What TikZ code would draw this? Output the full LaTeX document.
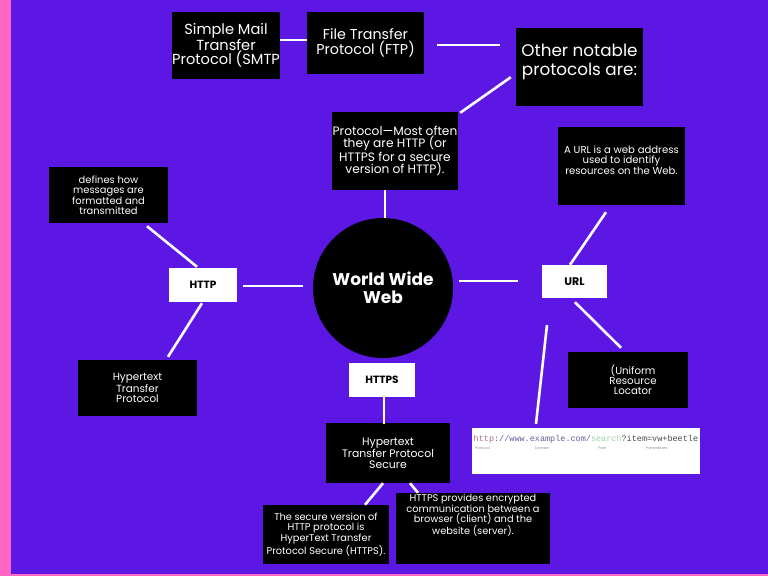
\documentclass[tikz,border=0pt]{standalone}
\usepackage{fontspec}
\setmainfont{Poppins}
\newfontfamily\urlmono{Liberation Mono}
\usetikzlibrary{calc}
\definecolor{bgpurple}{HTML}{5D17E4}
\definecolor{bgpink}{HTML}{FF66C4}
\definecolor{urlpink}{HTML}{B56A8E}
\definecolor{urlpurple}{HTML}{6E5A9E}
\definecolor{urlgreen}{HTML}{9CD4A0}
\definecolor{urlgrey}{HTML}{4A4A4A}
\tikzset{
  blk/.style={fill=black, text=white, align=center, inner sep=0pt},
  wht/.style={fill=white, text=black, align=center, inner sep=0pt, font=\fontsize{10.5}{11}\selectfont\bfseries},
  conn/.style={draw=white, line width=2.6pt},
  lbl/.style={text=white, align=center, inner sep=0pt},
  tiny/.style={anchor=base west, inner sep=0pt, text=black!45, font=\fontsize{3.6}{4}\selectfont},
}
\begin{document}
\begin{tikzpicture}[x=1pt,y=-1pt]
\useasboundingbox (0,0) rectangle (768,576);
\fill[bgpink] (0,0) rectangle (768,576);
\fill[bgpurple] (11,0) rectangle (768,574);

% top protocols
\node[blk, minimum width=108pt, minimum height=67pt, font=\fontsize{14.6}{14}\selectfont] (smtp) at (226,45.5) {Simple Mail\\Transfer\\Protocol (SMTP};
\node[blk, minimum width=117pt, minimum height=62pt, font=\fontsize{14.3}{15}\selectfont] (ftp) at (365.5,43) {File Transfer\\Protocol (FTP)};
\node[blk, minimum width=127pt, minimum height=78pt,
  label={[lbl, font=\fontsize{16.8}{18.5}\selectfont, yshift=5pt]center:{Other notable\\protocols are:}}] (other) at (579.5,67) {};
\node[blk, minimum width=126pt, minimum height=78pt, font=\fontsize{12.2}{11.8}\selectfont] (proto) at (395,151) {Protocol—Most often\\they are HTTP (or\\HTTPS for a secure\\version of HTTP).};

% centre
\node[circle, fill=black, text=white, minimum size=140pt, inner sep=0pt, align=center, font=\fontsize{17}{18}\selectfont\bfseries] (www) at (383,288) {World Wide\\Web};

% HTTP branch
\node[wht, minimum width=68pt, minimum height=34pt] (http) at (203,285) {HTTP};
\node[blk, minimum width=119pt, minimum height=56pt, font=\fontsize{9.9}{9.8}\selectfont] (defines) at (108.5,195) {defines how\\messages are\\formatted and\\transmitted};
\node[blk, minimum width=119pt, minimum height=56pt, font=\fontsize{10.4}{10.2}\selectfont] (hyp) at (137.5,388) {Hypertext\\Transfer\\Protocol};

% HTTPS branch
\node[wht, minimum width=66pt, minimum height=34pt] (https) at (382,380) {HTTPS};
\node[blk, minimum width=124pt, minimum height=60pt, font=\fontsize{10.9}{11}\selectfont] (sec) at (388,453) {Hypertext\\Transfer Protocol\\Secure};
\node[blk, minimum width=126pt, minimum height=59pt, font=\fontsize{9.8}{10}\selectfont] (left) at (326,534.5) {The secure version of\\HTTP protocol is\\HyperText Transfer\\Protocol Secure (HTTPS).};
\node[blk, minimum width=154pt, minimum height=71pt,
  label={[lbl, font=\fontsize{9.8}{10}\selectfont, yshift=13pt]center:{HTTPS provides encrypted\\communication between a\\browser (client) and the\\website (server).}}] (right) at (473,528.5) {};

% URL branch
\node[wht, minimum width=65pt, minimum height=33pt, font=\fontsize{11}{12}\selectfont\bfseries] (url) at (574.5,281.5) {URL};
\node[blk, minimum width=127pt, minimum height=78pt,
  label={[lbl, font=\fontsize{10.1}{9.8}\selectfont, yshift=6pt]center:{A URL is a web address\\used to identify\\resources on the Web.}}] (aurl) at (621.5,166) {};
\node[blk, minimum width=120pt, minimum height=56pt,
  label={[lbl, font=\fontsize{10.2}{9.8}\selectfont, xshift=5pt]center:{(Uniform\\Resource\\Locator}}] (uniform) at (628,380) {};
\node[fill=white, minimum width=228pt, minimum height=46pt, inner sep=0pt] (img) at (586,451) {};
\node[anchor=base west, inner sep=0pt, font=\urlmono\fontsize{8.5}{9}\selectfont] (urltext) at (473.5,441)
  {\textcolor{urlpink}{http}\textcolor{urlpurple}{://www.example.com/}\textcolor{urlgreen}{search}\textcolor{urlgrey}{?item=vw+beetle}};
\node[tiny] (lprot) at (475,449) {Protocol};
\node[tiny] (ldom) at (535,449) {Domain};
\node[tiny] (lpath) at (598,449) {Path};
\node[tiny] (lpar) at (646,449) {Parameters};

% connectors
\draw[conn] ($(smtp.east)+(0,-5.5)$) -- ($(ftp.west)+(0,-3)$);
\draw[conn] ($(ftp.east)+(13,2)$) -- ($(other.west)+(-16,-22)$);
\draw[conn] ($(other.south west)+(-5,-29)$) -- ($(proto.north east)+(2,1)$);
\draw[conn] ($(proto.south)+(-10,0)$) -- ($(www.north)+(2,0)$);
\draw[conn] ($(http.east)+(6,1)$) -- ($(www.west)+(-10,-2)$);
\draw[conn] ($(http.north)+(-6,-1)$) -- ($(defines.south)+(38.5,3)$);
\draw[conn] ($(http.south)+(-1,1)$) -- ($(hyp.north)+(30.5,-3)$);
\draw[conn] ($(https.south)+(2,0)$) -- ($(sec.north)+(-4,1)$);
\draw[conn] ($(sec.south)+(-5,0)$) -- ($(left.north)+(39,0)$);
\draw[conn] ($(sec.south)+(22,0)$) -- ($(right.north)+(-55,0)$);
\draw[conn] ($(www.east)+(6,-7)$) -- ($(url.west)+(-24,-0.5)$);
\draw[conn] ($(url.north)+(-4.5,0)$) -- ($(aurl.south)+(-15.5,7)$);
\draw[conn] ($(url.south)+(0.5,4)$) -- ($(uniform.north)+(-7,-4)$);
\draw[conn] ($(url.south)+(-27.5,27)$) -- ($(img.north)+(-50,-4)$);
\end{tikzpicture}
\end{document}
